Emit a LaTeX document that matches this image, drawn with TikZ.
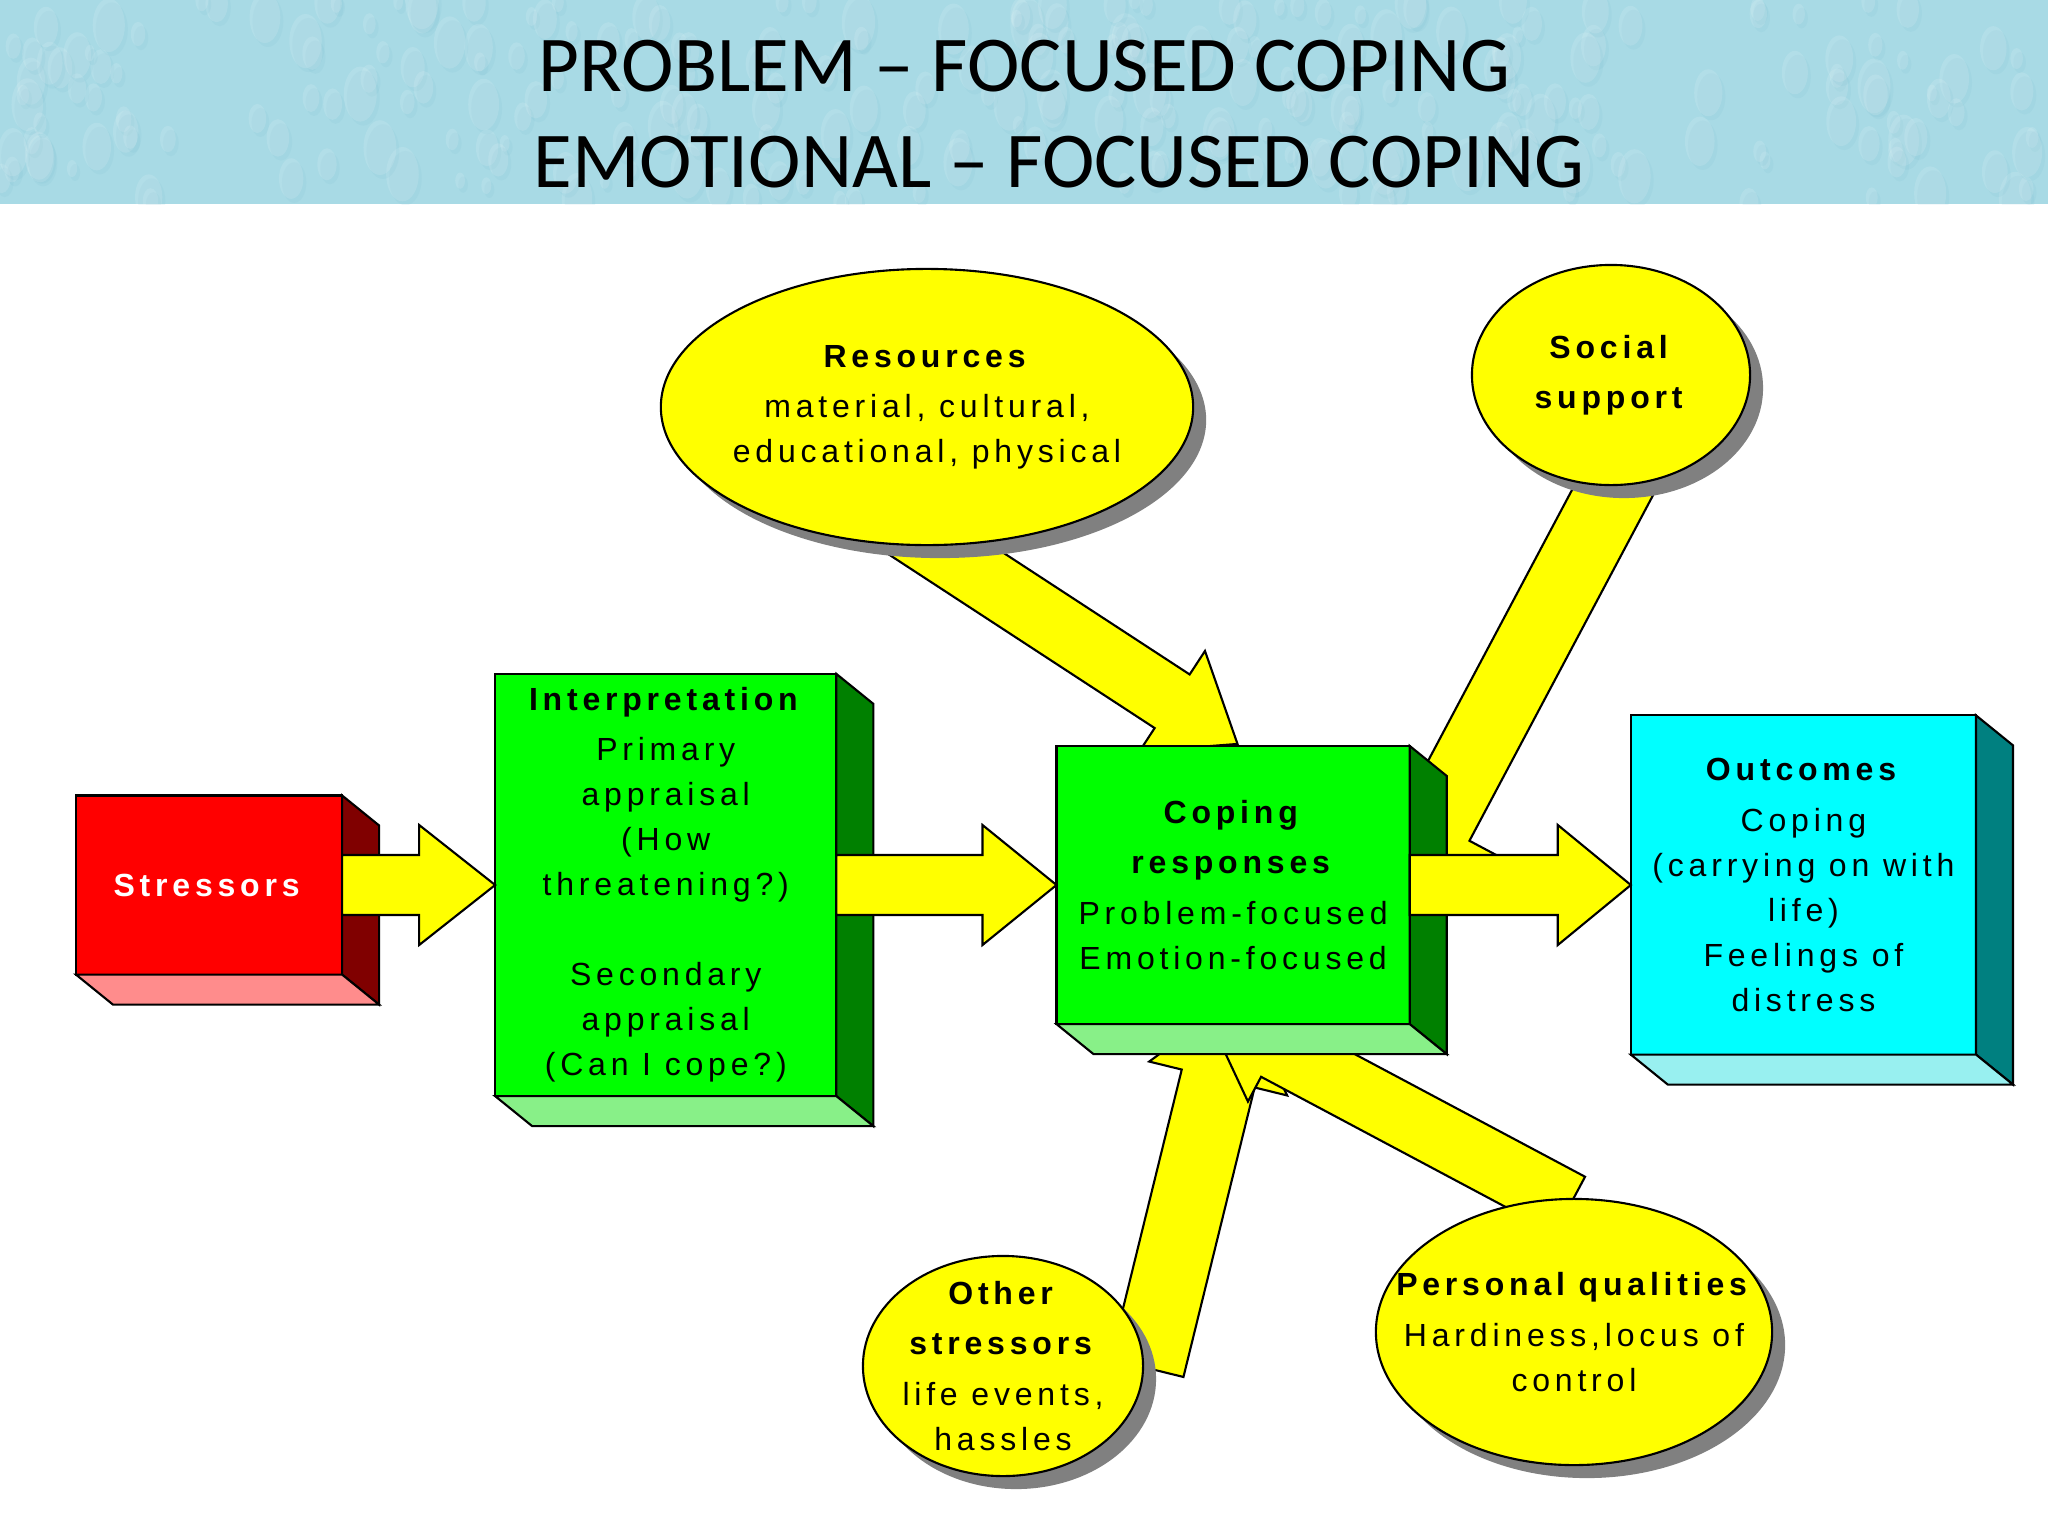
\documentclass[tikz,border=0pt]{standalone}
\usepackage{fontspec}
\usepackage{tikz}
\usetikzlibrary{arrows.meta,positioning,shapes.geometric,calc,backgrounds,shadows}
\newfontfamily\titlefont{Carlito}
\newfontfamily\diagfont[LetterSpace=15]{Liberation Sans}
\definecolor{banner}{HTML}{A8DAE5}
\definecolor{bannerdark}{HTML}{6FB8CC}
\definecolor{stressred}{HTML}{FF0000}
\definecolor{stressside}{HTML}{800000}
\definecolor{stressbase}{HTML}{FF8C8C}
\definecolor{boxgreen}{HTML}{00FF00}
\definecolor{greenside}{HTML}{008000}
\definecolor{greenbase}{HTML}{88F088}
\definecolor{boxcyan}{HTML}{00FFFF}
\definecolor{cyanside}{HTML}{008080}
\definecolor{cyanbase}{HTML}{98F0F0}
\definecolor{arrowyellow}{HTML}{FFFF00}
\definecolor{shadowgray}{HTML}{808080}
\newcommand{\titlesize}{\titlefont\fontsize{22.5}{27}\selectfont}
\newcommand{\boxtext}{\diagfont\fontsize{9.1}{12.8}\selectfont}
\tikzset{
  titletext/.style={font=\titlesize, inner sep=0pt},
  facebox/.style={
    rectangle, draw=black, fill=#1, line width=0.6pt,
    font=\boxtext, align=center, inner sep=2pt, outer sep=0pt
  },
  facebox/.default=boxgreen,
  bubble/.style={
    ellipse, draw=black, fill=arrowyellow, line width=0.6pt, inner sep=0pt,
    drop shadow={shadow xshift=0.13cm, shadow yshift=-0.13cm,
      fill=shadowgray, opacity=1}
  },
  bubbletext/.style={font=\boxtext, align=center, inner sep=0pt},
  flowarrow/.style={draw=black, fill=arrowyellow, line width=0.6pt},
  sideface/.style={draw=black, fill=#1, line width=0.6pt},
}
% side and bottom faces of a box: node, side colour, bottom colour
\newcommand{\boxsides}[3]{%
  \path[sideface=#2] (#1.north east) -- ++(37,30)
    -- ($(#1.south east)+(37,30)$) -- (#1.south east) -- cycle;
  \path[sideface=#3] (#1.south west) -- (#1.south east)
    -- ($(#1.south east)+(37,30)$) -- ($(#1.south west)+(37,30)$) -- cycle;}
% block arrow: from, to, shaft half width, head half width, head length
\newcommand{\blockarrow}[5]{%
  \coordinate (ah) at ($(#2)!#5!(#1)$);
  \path[flowarrow] ($(#1)!#3!90:(#2)$) -- ($(ah)!#3!90:(#2)$)
    -- ($(ah)!#4!90:(#2)$) -- (#2) -- ($(ah)!#4!-90:(#2)$)
    -- ($(ah)!#3!-90:(#2)$) -- ($(#1)!#3!-90:(#2)$) -- cycle;}

\begin{document}
\begin{tikzpicture}[x=0.01cm, y=-0.01cm, node distance=2.21cm]
  \useasboundingbox (0,0) rectangle (2048,1536);

  % Title
  \fill[banner] (0,0) rectangle (2048,204);
  \begin{scope}
    \clip (0,0) rectangle (2048,204);
    \pgfmathsetseed{11}
    \foreach \i in {1,...,260} {
      \pgfmathsetmacro{\dx}{rnd*2048}
      \pgfmathsetmacro{\dy}{rnd*204}
      \pgfmathsetmacro{\dr}{8+rnd*20}
      \fill[bannerdark, opacity=0.1] (\dx+3,\dy+4) ellipse [x radius=0.6*\dr, y radius=\dr];
      \fill[white, opacity=0.12] (\dx,\dy) ellipse [x radius=0.6*\dr, y radius=\dr];
    }
  \end{scope}
  \node[titletext, anchor=base west] (title1) at (538,91) {PROBLEM – FOCUSED COPING};
  \node[titletext, anchor=base west] (title2) at (533,187) {EMOTIONAL – FOCUSED COPING};

  % Boxes
  \node[facebox=stressred, text=white, minimum width=2.66cm, minimum height=1.79cm]
    (stress) at (209,885) {\textbf{Stressors}};
  \node[facebox, minimum width=3.41cm, minimum height=4.22cm, right=1.53cm of stress]
    (interp) {\textbf{Interpretation}\\[1.5pt]Primary\\appraisal\\(How\\threatening?)\\[12.8pt]
      Secondary\\appraisal\\(Can I cope?)};
  \node[facebox, minimum width=3.53cm, minimum height=2.78cm, right=2.2cm of interp]
    (coping) {\textbf{Coping}\\[1.5pt]\textbf{responses}\\[1.5pt]Problem-focused\\Emotion-focused};
  \node[facebox=boxcyan, minimum width=3.45cm, minimum height=3.39cm, right=of coping]
    (outcome) {\textbf{Outcomes}\\[1.5pt]Coping\\(carrying on with\\life)\\Feelings of\\distress};
  \boxsides{stress}{stressside}{stressbase}
  \boxsides{interp}{greenside}{greenbase}
  \boxsides{coping}{greenside}{greenbase}
  \boxsides{outcome}{cyanside}{cyanbase}

  % Bubbles
  \node[bubble, minimum width=5.32cm, minimum height=2.76cm] (res) at (927,407) {};
  \node[bubbletext] (res-t) at (res.center)
    {\textbf{Resources}\\[1.5pt]material, cultural,\\educational, physical};
  \node[bubble, minimum width=2.78cm, minimum height=2.2cm] (social) at (1611,375) {};
  \node[bubbletext] (social-t) at (social.center) {\textbf{Social}\\[1.5pt]\textbf{support}};
  \node[bubble, minimum width=2.8cm, minimum height=2.2cm] (other) at (1003,1366) {};
  \node[bubbletext] (other-t) at (other.center)
    {\textbf{Other}\\[1.5pt]\textbf{stressors}\\[1.5pt]life events,\\hassles};
  \node[bubble, minimum width=3.96cm, minimum height=2.66cm] (pers) at (1574,1332) {};
  \node[bubbletext] (pers-t) at (pers.center)
    {\textbf{Personal qualities}\\[1.5pt]Hardiness,locus of\\control};

  % Arrows into coping, behind the boxes
  \begin{pgfonlayer}{background}
    \coordinate (res-a) at ($(res.center)+(-63,93)$);
    \coordinate (res-b) at ($(coping.north west)+(181,-2)$);
    \blockarrow{res-a}{res-b}{0.32cm}{0.6cm}{0.78cm}
    \coordinate (social-a) at ($(social.center)+(64,0)$);
    \coordinate (social-b) at ($(coping.north west)+(338,157)$);
    \blockarrow{social-a}{social-b}{0.37cm}{0.72cm}{0.9cm}
    \coordinate (other-a) at ($(other.center)+(144,2)$);
    \coordinate (other-b) at ($(coping.north west)+(182,250)$);
    \blockarrow{other-a}{other-b}{0.375cm}{0.71cm}{0.85cm}
    \coordinate (pers-a) at ($(pers.center)+(-4,-127)$);
    \coordinate (pers-b) at ($(coping.north west)+(149,265)$);
    \blockarrow{pers-a}{pers-b}{0.32cm}{0.6cm}{0.8cm}
  \end{pgfonlayer}

  % Main flow
  \blockarrow{stress.east}{interp.west}{0.3cm}{0.6cm}{0.76cm}
  \blockarrow{interp.east}{coping.west}{0.3cm}{0.6cm}{0.74cm}
  \blockarrow{coping.east}{outcome.west}{0.3cm}{0.6cm}{0.73cm}
\end{tikzpicture}
\end{document}
